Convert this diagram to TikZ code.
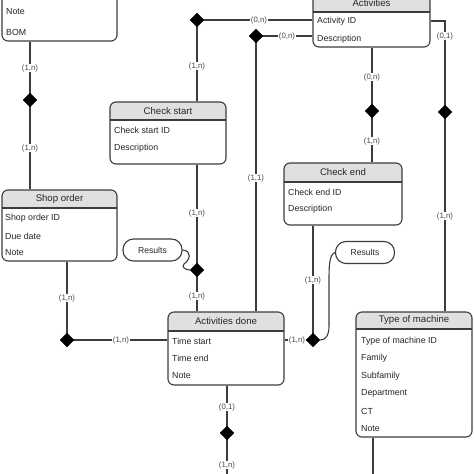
\documentclass[tikz,border=0pt]{standalone}
\usepackage{fontspec}
\setmainfont{Liberation Sans}
\usetikzlibrary{shapes.geometric,fit}
\definecolor{linec}{HTML}{3C3C3C}
\definecolor{headc}{HTML}{E0E0E0}
\definecolor{labc}{HTML}{4A4A4A}
\definecolor{txtc}{HTML}{262626}
\tikzset{
 conn/.style={draw=linec, line width=1.1pt},
 entbox/.style={draw=linec, line width=1.1pt, rounded corners=6pt, inner sep=0pt},
 rel/.style={diamond, fill=black, draw=black, inner sep=0pt, minimum width=14pt, minimum height=14pt},
 card/.style={fill=white, inner sep=0.6pt, text=labc, font=\fontsize{7.8}{9}\selectfont},
 ttl/.style={font=\fontsize{9.6}{11}\selectfont, text=txtc, inner sep=0pt},
 attr/.style={anchor=west, font=\fontsize{8.8}{10}\selectfont, inner sep=0pt, text=txtc},
 bubble/.style={draw=linec, line width=1.1pt, rounded corners=10.5pt, minimum width=59pt, minimum height=22pt, font=\fontsize{8.6}{10}\selectfont, text=txtc, inner sep=0pt},
}
\newcommand\ent[6]{%
 \begin{scope}
 \clip[rounded corners=6pt] (#2,#3) rectangle (#4,#5);
 \fill[headc] (#2,#3) rectangle (#4,#6);
 \end{scope}
 \draw[conn] (#2,#6) -- (#4,#6);
 \path (#2,#3) coordinate (#1-nw) (#4,#5) coordinate (#1-se);
 \node[entbox, fit=(#1-nw)(#1-se)] (#1) {};
}
\begin{document}
\begin{tikzpicture}[x=1pt,y=-1pt]
\useasboundingbox (0,0) rectangle (474,474);
\clip (0,0) rectangle (474,474);
\fill[white] (0,0) rectangle (474,474);

% entities
\ent{bom}{2}{-60}{117}{41}{-40}
\node[attr] at (6,12) {Note};
\node[attr] at (6,32) {BOM};

\ent{act}{313}{-7}{430}{47}{12}
\node[ttl] at (371.5,3) {Activities};
\node[attr] at (317,21.5) {Activity ID};
\node[attr] at (317,39) {Description};

\ent{cs}{110}{102}{226}{164}{120}
\node[ttl] at (168,111) {Check start};
\node[attr] at (114,130) {Check start ID};
\node[attr] at (114,148) {Description};

\ent{ce}{284}{163}{402}{225}{182}
\node[ttl] at (343,172.5) {Check end};
\node[attr] at (288,192) {Check end ID};
\node[attr] at (288,209) {Description};

\ent{so}{2}{190}{117}{261}{208}
\node[ttl] at (59.5,199) {Shop order};
\node[attr] at (5,218) {Shop order ID};
\node[attr] at (5,236) {Due date};
\node[attr] at (5,253) {Note};

\ent{ad}{168}{312}{284}{385}{331}
\node[ttl] at (226,321.5) {Activities done};
\node[attr] at (172,341) {Time start};
\node[attr] at (172,358.5) {Time end};
\node[attr] at (172,376) {Note};

\ent{tm}{356}{312}{472}{437}{329}
\node[ttl] at (414,320.5) {Type of machine};
\node[attr] at (361,341) {Type of machine ID};
\node[attr] at (361,358.5) {Family};
\node[attr] at (361,376) {Subfamily};
\node[attr] at (361,393.5) {Department};
\node[attr] at (361,411) {CT};
\node[attr] at (361,428.5) {Note};

% bubbles
\node[bubble] (r1) at (152.5,250) {Results};
\node[bubble] (r2) at (365,252.5) {Results};

% relationship diamonds (coordinates first)
\path (30,100) coordinate (d1c) (197,20) coordinate (da1c) (256,36) coordinate (da2c)
 (372,111) coordinate (dcec) (445,112) coordinate (dtmc) (197,270) coordinate (dcsc)
 (313,340) coordinate (dce2c) (67,340) coordinate (dsoc) (227,433) coordinate (dadc);
\coordinate (bot1) at (227,480);
\coordinate (bot2) at (373,480);

% connectors
\draw[conn] (d1c) -- (d1c |- bom.south);
\draw[conn] (d1c) -- (d1c |- so.north);
\draw[conn] (da1c) -- (act.west |- da1c);
\draw[conn] (da1c) -- (da1c |- cs.north);
\draw[conn] (da2c) -- (act.west |- da2c);
\draw[conn] (da2c) -- (da2c |- ad.north);
\draw[conn] (dcec) -- (dcec |- act.south);
\draw[conn] (dcec) -- (dcec |- ce.north);
\draw[conn] (act.east |- 0,21) -| (dtmc);
\draw[conn] (dtmc) -- (dtmc |- tm.north);
\draw[conn] (dcsc) -- (dcsc |- cs.south);
\draw[conn] (dcsc) -- (dcsc |- ad.north);
\draw[conn] (dce2c) -- (dce2c |- ce.south);
\draw[conn] (dce2c) -- (ad.east |- dce2c);
\draw[conn] (dsoc) -- (dsoc |- so.south);
\draw[conn] (dsoc) -- (ad.west |- dsoc);
\draw[conn] (dadc) -- (dadc |- ad.south);
\draw[conn] (dadc) -- (bot1);
\draw[conn] (tm.south -| bot2) -- (bot2);

\node[rel] (d1) at (d1c) {};
\node[rel] (da1) at (da1c) {};
\node[rel] (da2) at (da2c) {};
\node[rel] (dce) at (dcec) {};
\node[rel] (dtm) at (dtmc) {};
\node[rel] (dcs) at (dcsc) {};
\node[rel] (dce2) at (dce2c) {};
\node[rel] (dso) at (dsoc) {};
\node[rel] (dad) at (dadc) {};

% results links
\draw[conn] (r1.east) .. controls +(10,1) and +(6,-4) .. (184,264) .. controls +(-3,3) and +(-4,0) .. (dcs.west);
\draw[conn] (r2.west) .. controls +(-6,2) and +(0,-14) .. (329,282) -- (329,326) .. controls +(0,10) and +(5,0) .. (dce2.east);

% cardinalities
\node[card] at (30,68) {(1,n)};
\node[card] at (30,148) {(1,n)};
\node[card] at (259,20) {(0,n)};
\node[card] at (197,66) {(1,n)};
\node[card] at (287,36) {(0,n)};
\node[card] at (256,178) {(1,1)};
\node[card] at (372,77) {(0,n)};
\node[card] at (372,141) {(1,n)};
\node[card] at (445,36) {(0,1)};
\node[card] at (445,216) {(1,n)};
\node[card] at (197,213) {(1,n)};
\node[card] at (197,296) {(1,n)};
\node[card] at (313,280) {(1,n)};
\node[card] at (297,340) {(1,n)};
\node[card] at (67,298) {(1,n)};
\node[card] at (121,340) {(1,n)};
\node[card] at (227,407) {(0,1)};
\node[card] at (227,465) {(1,n)};
\end{tikzpicture}
\end{document}
